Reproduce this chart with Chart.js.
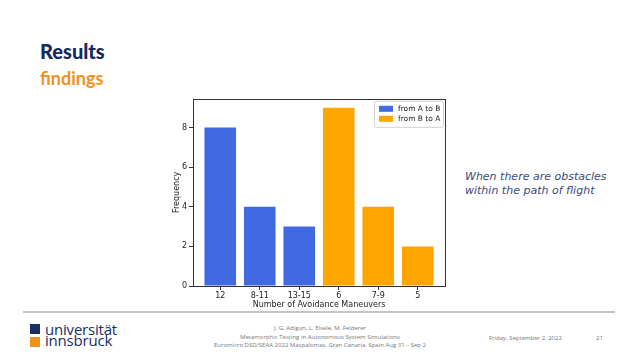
<!DOCTYPE html>
<html>
<head>
<meta charset="utf-8">
<script src="https://cdn.jsdelivr.net/npm/chart.js@4"></script>
<style>
    body { margin: 0; width: 638px; height: 359px; background: #fff; position: relative; overflow: hidden; font-family: 'Open Sans', sans-serif; }
    .abs { position: absolute; white-space: nowrap; }
    #title { left: 40px; top: 39px; font: 900 20px Lato, sans-serif; color: #15295c; }
    #sub { left: 40px; top: 67px; font: bold 18px Lato, sans-serif; color: #f2911b; }
    #note { left: 465px; top: 170px; font: italic 11px 'DejaVu Sans', cursive; color: #3c4a78; line-height: 14px; }
    #chartBox { position: absolute; left: 172px; top: 92px; width: 278px; height: 218px; }
    #rule { position: absolute; left: 23px; top: 311px; width: 592px; height: 2px; background: #c4c4c4; }
    .sq { position: absolute; left: 30px; width: 10px; height: 10px; }
    #uni { left: 45px; top: 324px; font: 15px 'Open Sans', sans-serif; color: #1b2f63; line-height: 10.5px; letter-spacing: -0.2px; }
    #foot { left: 320px; top: 324px; transform: translateX(-50%); text-align: center; font: 6px 'Open Sans', sans-serif; color: #777; line-height: 8.5px; }
    #date { left: 489px; top: 334px; font: 6px 'Open Sans', sans-serif; color: #777; }
    #page { left: 596px; top: 334px; font: 6px 'Open Sans', sans-serif; color: #777; }
</style>
</head>
<body>
<div id="title" class="abs">Results</div>
<div id="sub" class="abs">findings</div>
<div id="note" class="abs">When there are obstacles<br>within the path of flight</div>
<div id="chartBox"><canvas id="barChart"></canvas></div>
<div id="rule"></div>
<div class="sq" style="top:324px;background:#1b2f63"></div>
<div class="sq" style="top:337px;background:#f2911b"></div>
<div id="uni" class="abs">universität<br>innsbruck</div>
<div id="foot" class="abs">J. G. Adigun, L. Eisele, M. Felderer<br>Metamorphic Testing in Autonomous System Simulations<br>Euromicro DSD/SEAA 2022 Maspalomas, Gran Canaria, Spain Aug 31 – Sep 2</div>
<div id="date" class="abs">Friday, September 2, 2022</div>
<div id="page" class="abs">21</div>
<script>
var categories = ['12', '8-11', '13-15', '6', '7-9', '5'];
var aToB = [8, 4, 3, null, null, null];
var bToA = [null, null, null, 9, 4, 2];
var yTicks = [0, 2, 4, 6, 8];

function points(values) {
    var out = [];
    values.forEach(function (v, i) {
        if (v !== null) out.push({ x: i, y: v });
    });
    return out;
}

// frame around the plot plus the legend drawn inside, like matplotlib
var framePlugin = {
    id: 'frame',
    afterDraw: function (chart) {
        var c = chart.ctx, a = chart.chartArea;
        c.save();
        c.strokeStyle = '#333';
        c.lineWidth = 1;
        c.strokeRect(Math.round(a.left) + 0.5, Math.round(a.top) + 0.5, Math.round(a.right - a.left), Math.round(a.bottom - a.top));

        var sets = chart.data.datasets;
        var bw = 69, bh = 26;
        var bx = a.right - 2 - bw, by = a.top + 2;
        c.fillStyle = 'rgba(255,255,255,0.85)';
        c.strokeStyle = '#d0d0d0';
        c.beginPath();
        c.roundRect(bx + 0.5, by + 0.5, bw, bh, 2);
        c.fill();
        c.stroke();
        c.font = '7.5px "DejaVu Sans"';
        c.textBaseline = 'middle';
        sets.forEach(function (ds, i) {
            var ry = by + 8 + i * 10;
            c.fillStyle = ds.backgroundColor;
            c.fillRect(bx + 5, ry - 3, 14, 6);
            c.fillStyle = '#222';
            c.fillText(ds.label, bx + 24, ry);
        });
        c.restore();
    }
};

var ctx = document.getElementById('barChart').getContext('2d');
var chart = new Chart(ctx, {
    type: 'bar',
    data: {
        datasets: [{
            label: 'from A to B',
            data: points(aToB),
            backgroundColor: '#4169e1',
            grouped: false,
            barPercentage: 1,
            categoryPercentage: 0.8
        }, {
            label: 'from B to A',
            data: points(bToA),
            backgroundColor: '#ffa500',
            grouped: false,
            barPercentage: 1,
            categoryPercentage: 0.8
        }]
    },
    options: {
        responsive: true,
        maintainAspectRatio: false,
        animation: false,
        layout: { padding: { top: 5, right: 5, left: 0, bottom: 0 } },
        plugins: {
            legend: { display: false },
            tooltip: { enabled: false }
        },
        scales: {
            x: {
                type: 'linear',
                offset: false,
                min: -0.69,
                max: categories.length - 1 + 0.69,
                afterBuildTicks: function (s) {
                    s.ticks = categories.map(function (_, i) { return { value: i }; });
                },
                afterFit: function (s) { s.height = 24; },
                grid: { drawOnChartArea: false, offset: false, tickLength: 4, color: '#333' },
                border: { display: false },
                ticks: {
                    padding: 1,
                    color: '#222',
                    font: { family: 'DejaVu Sans', size: 8 },
                    callback: function (v) { return categories[v]; }
                },
                title: {
                    display: true,
                    text: 'Number of Avoidance Maneuvers',
                    color: '#222',
                    padding: { top: 0, bottom: 0 },
                    font: { family: 'DejaVu Sans', size: 8 }
                }
            },
            y: {
                min: 0,
                max: 9.45,
                afterBuildTicks: function (s) {
                    s.ticks = yTicks.map(function (v) { return { value: v }; });
                },
                afterFit: function (s) { s.width = 21; },
                grid: { drawOnChartArea: false, tickLength: 4, color: '#333' },
                border: { display: false },
                ticks: {
                    padding: 2,
                    color: '#222',
                    font: { family: 'DejaVu Sans', size: 8 }
                },
                title: {
                    display: true,
                    text: 'Frequency',
                    color: '#222',
                    padding: { top: 0, bottom: 0 },
                    font: { family: 'DejaVu Sans', size: 8 }
                }
            }
        }
    },
    plugins: [framePlugin]
});
</script>
</body>
</html>
